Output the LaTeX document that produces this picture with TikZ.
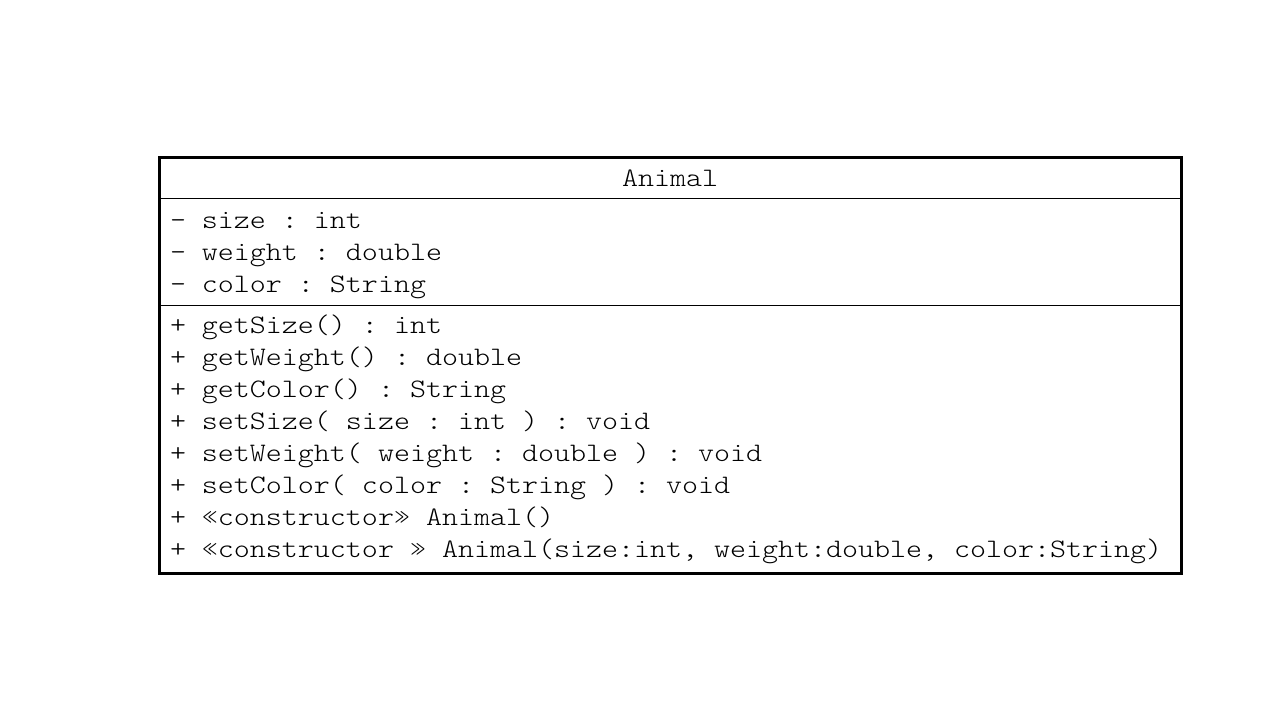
\documentclass[tikz,border=0pt]{standalone}
\usepackage{fontspec}
\setmonofont{lmmonolt10-regular.otf}[FakeStretch=1.143]
\usetikzlibrary{positioning}
\newcommand\umlfont{\ttfamily\fontsize{20}{24}\selectfont}
\newcommand\umlspaces{\spaceskip=12pt\relax\xspaceskip=12pt\relax\parindent=0pt\relax}
\begin{document}
\begin{tikzpicture}[x=0.75pt,y=-0.75pt,
  part/.style={draw,line width=0.75pt,minimum width=766.5pt,inner xsep=8.25pt,inner ysep=0pt,
    outer sep=0pt,font=\umlfont},
  listpart/.style={part,text width=750pt,align=left,execute at begin node=\umlspaces}]
\useasboundingbox (0,0) rectangle (1280,720);
% class name
\node[part,anchor=north west,minimum height=30.75pt] (name) at (159,158) {Animal};
% attributes
\node[listpart,below=0pt of name,minimum height=79.5pt] (attrs)
  {\rule{0pt}{17pt}- size : int\\- weight : double\\- color : String};
% operations
\node[listpart,below=0pt of attrs,minimum height=201pt] (ops)
  {+ getSize() : int\\
   + getWeight() : double\\
   + getColor() : String\\
   + setSize( size : int ) : void\\
   + setWeight( weight : double ) : void\\
   + setColor( color : String ) : void\\
   + «constructor» Animal()\\
   + «constructor » Animal(size:int, weight:double, color:String)};
\draw[line width=2.25pt] (name.north west) rectangle (ops.south east);
\end{tikzpicture}
\end{document}
